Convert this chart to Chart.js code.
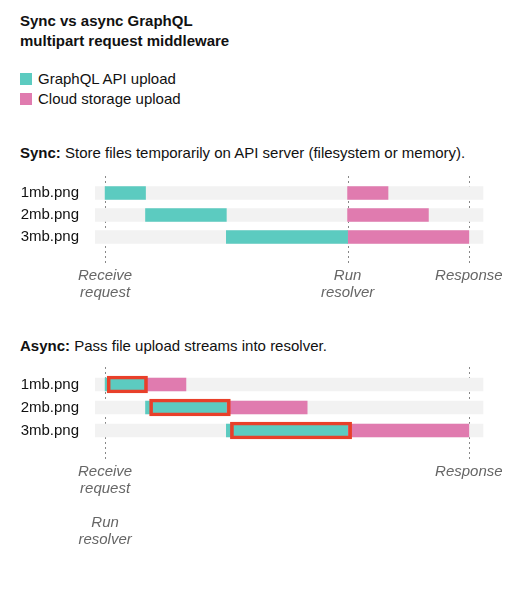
<!DOCTYPE html>
<html><head><meta charset="utf-8">
<script src="https://cdn.jsdelivr.net/npm/chart.js@4/dist/chart.umd.min.js"></script>
<style>
body{margin:0;background:#fff;font-family:"Liberation Sans",Arial,sans-serif;color:#111;}
.a{position:absolute;white-space:nowrap}
.sw{display:inline-block;width:12px;height:12px;vertical-align:-1px;margin-right:6px}
canvas{position:absolute;left:0}
</style></head><body>
<div class="a" style="left:20px;top:11px;font-weight:bold;font-size:15px;line-height:20px">Sync vs async GraphQL<br>multipart request middleware</div>
<div class="a" style="left:20px;top:70px;font-size:15px"><span class="sw" style="background:#5ccbc0"></span>GraphQL API upload</div>
<div class="a" style="left:20px;top:90px;font-size:15px"><span class="sw" style="background:#e07baf"></span>Cloud storage upload</div>
<div class="a" style="left:20px;top:144px;font-size:15px"><b>Sync:</b> Store files temporarily on API server (filesystem or memory).</div>
<div class="a" style="left:20px;top:337px;font-size:15px"><b>Async:</b> Pass file upload streams into resolver.</div>
<div style="position:absolute;left:0;top:165px;width:530px;height:145px"><canvas id="c1"></canvas></div>
<div style="position:absolute;left:0;top:356px;width:530px;height:204px"><canvas id="c2"></canvas></div>
<script>
const categories=["1mb.png","2mb.png","3mb.png"];
const syncApi=[[0,1],[1,3],[3,6]];
const syncCloud=[[6,7],[6,8],[6,9]];
const asyncApi=[[0,1],[1,3],[3,6]];
const asyncCloud=[[1,2],[3,5],[6,9]];
const asyncBoxes=[[0.05,1.05],[1.1,3.1],[3.1,6.1]];
const track=[[-0.25,9.35],[-0.25,9.35],[-0.25,9.35]];
const syncMarks=[{v:0,l:["Receive","request"],o:0},{v:6,l:["Run","resolver"],o:0},{v:9,l:["Response"],o:0}];
const asyncMarks=[{v:0,l:["Receive","request"],o:0},{v:0,l:["Run","resolver"],o:51},{v:9,l:["Response"],o:0}];

function markPlugin(marks,lineBottom){return{id:'marks',beforeDatasetsDraw(ch){
 const c=ch.ctx,x=ch.scales.x,a=ch.chartArea;
 c.save();c.strokeStyle='#888';c.lineWidth=1;c.setLineDash([2,3]);
 const done={};
 marks.forEach(m=>{const px=Math.round(x.getPixelForValue(m.v))+0.5;
  if(!done[m.v]){c.beginPath();c.moveTo(px,a.top-6);c.lineTo(px,a.bottom+lineBottom);c.stroke();done[m.v]=1;}});
 c.restore();},
 afterDraw(ch){const c=ch.ctx,x=ch.scales.x,a=ch.chartArea;c.save();
 c.font='italic 15px "Liberation Sans", Arial';c.fillStyle='#666';c.textAlign='center';c.textBaseline='middle';
 marks.forEach(m=>{const px=x.getPixelForValue(m.v);m.l.forEach((t,i)=>c.fillText(t,px,a.bottom+lineBottom+12+m.o+i*17));});
 c.restore();}}}

function make(id,api,cloud,boxes,marks,padTop,padBottom,lineBottom){
 const ds=[
  {data:boxes||[],backgroundColor:'rgba(0,0,0,0)',borderColor:'#e8402a',borderWidth:3,borderSkipped:false,barThickness:17,grouped:false},
  {data:api,backgroundColor:'#5ccbc0',barThickness:13,grouped:false},
  {data:cloud,backgroundColor:'#e07baf',barThickness:13,grouped:false},
  {data:track,backgroundColor:'#f2f2f2',barThickness:13,grouped:false}];
 new Chart(document.getElementById(id),{type:'bar',data:{labels:categories,datasets:ds},
 options:{indexAxis:'y',responsive:true,maintainAspectRatio:false,animation:false,
  layout:{padding:{top:padTop,bottom:padBottom,right:45,left:0}},
  plugins:{legend:{display:false},tooltip:{enabled:false}},
  scales:{x:{min:-0.25,max:9.4,display:false},
   y:{grid:{display:false},border:{display:false},afterFit(s){s.width=95},
    ticks:{color:'#111',font:{size:15,family:'"Liberation Sans", Arial'},padding:8}}}},
 plugins:[markPlugin(marks,lineBottom)]});
}
make('c1',syncApi,syncCloud,null,syncMarks,11,62,16);
make('c2',asyncApi,asyncCloud,asyncBoxes,asyncMarks,12,118,18);
</script></body></html>
